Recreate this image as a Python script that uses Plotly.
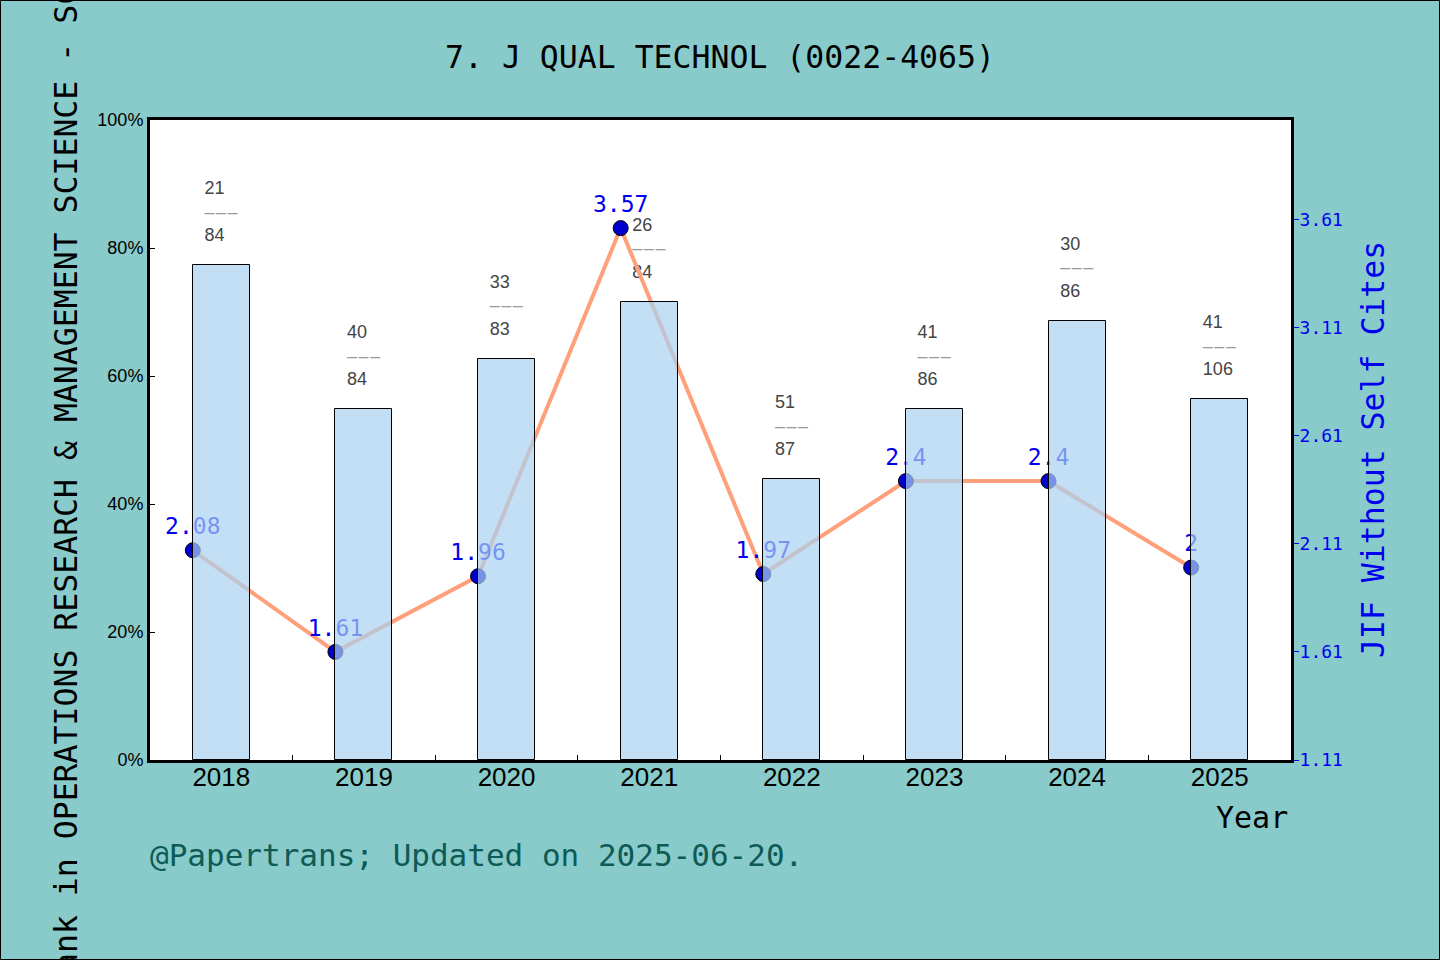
import plotly.graph_objects as go

# ---------------- data ----------------
years = ["2018", "2019", "2020", "2021", "2022", "2023", "2024", "2025"]
rank = [21, 40, 33, 26, 51, 41, 30, 41]
total = [84, 84, 83, 84, 87, 86, 86, 106]
bar_pct = [0.773, 0.548, 0.627, 0.716, 0.439, 0.548, 0.686, 0.564]
jif = [2.08, 1.61, 1.96, 3.57, 1.97, 2.4, 2.4, 2.0]
jif_labels = ["2.08", "1.61", "1.96", "3.57", "1.97", "2.4", "2.4", "2"]
jif_ticks = [1.11, 1.61, 2.11, 2.61, 3.11, 3.61]
pct_ticks = [0, 0.2, 0.4, 0.6, 0.8, 1.0]

# ---------------- layout constants ----------------
W, H = 1440, 960
ML, MR, MT, MB = 150, 149, 120, 200
PW, PH = W - ML - MR, H - MT - MB
MONO = "DejaVu Sans Mono"
SANS = "Liberation Sans, Arial, sans-serif"
BG = "#88CBCA"


def px(x):
    return (x - ML) / PW


def py(y):
    return (H - MB - y) / PH


idx = list(range(len(years)))
bar_w = 0.4
line_x = [i - bar_w / 2 for i in idx]
label_x = [i - 0.118 for i in idx]
label_y = [v + 52 / PH for v in bar_pct]
dash = "\u2013\u200a\u2013\u200a\u2013"
rank_text = [f"{r}<br><span style='color:#9a9a9a'>{dash}</span><br>{t}" for r, t in zip(rank, total)]

fig = go.Figure()

# rank labels (bottom layer)
fig.add_trace(go.Scatter(
    x=label_x, y=label_y, mode="text", text=rank_text,
    textposition="middle right",
    textfont=dict(family=SANS, size=18, color="#444444"),
    yaxis="y", showlegend=False, hoverinfo="skip",
))

# JIF line (middle layer)
fig.add_trace(go.Scatter(
    x=line_x, y=jif, mode="lines+markers+text", text=jif_labels,
    textposition="top center",
    textfont=dict(family=MONO, size=23, color="#0000EE"),
    line=dict(color="#FFA07A", width=4),
    marker=dict(size=15, color="#0000CD", line=dict(color="black", width=1)),
    yaxis="y2", showlegend=False,
))

# bars (top layer, translucent)
fig.add_trace(go.Bar(
    x=idx, y=bar_pct, width=bar_w,
    marker=dict(color="rgba(170,210,242,0.7)", line=dict(color="black", width=1)),
    yaxis="y3", showlegend=False,
))

fig.update_layout(
    width=W, height=H,
    margin=dict(l=ML, r=MR, t=MT, b=MB),
    paper_bgcolor=BG, plot_bgcolor="white",
    title=dict(text="7. J QUAL TECHNOL (0022-4065)", x=0.5, xanchor="center",
               y=1 - 57 / H, yanchor="middle", yref="container",
               font=dict(family=MONO, size=31.5, color="black")),
    xaxis=dict(range=[-0.5, len(years) - 0.5], tickmode="array", tickvals=idx, ticktext=years,
               ticks="", showgrid=False, zeroline=False, ticklabelstandoff=-8,
               showline=True, linewidth=3, linecolor="black", mirror=True,
               tickfont=dict(family=SANS, size=26, color="black"),
               minor=dict(tickmode="array", tickvals=[i - 0.5 for i in idx[1:]],
                          ticks="inside", ticklen=5, tickcolor="black", tickwidth=1, showgrid=False)),
    yaxis=dict(range=[0, 1], tickmode="array", tickvals=pct_ticks, tickformat=".0%",
               ticks="inside", ticklen=5, tickcolor="black", showgrid=False, zeroline=False,
               showline=True, linewidth=3, linecolor="black", mirror=True,
               tickfont=dict(family=SANS, size=18, color="black")),
    yaxis2=dict(range=[1.11, 4.07], overlaying="y", side="right", tickmode="array",
                tickvals=jif_ticks, ticktext=[f"{v:.2f}" for v in jif_ticks],
                ticks="outside", ticklen=5, tickcolor="#0000EE", showgrid=False, zeroline=False,
                showline=True, linewidth=3, linecolor="black", ticklabelstandoff=-3,
                tickfont=dict(family=MONO, size=18, color="#0000EE")),
    yaxis3=dict(range=[0, 1], overlaying="y", visible=False),
    bargap=0,
)

fig.add_annotation(text="Rank in OPERATIONS RESEARCH & MANAGEMENT SCIENCE - SCIE",
                   xref="paper", yref="paper", x=px(66), y=py(470), textangle=-90,
                   xanchor="center", yanchor="middle", showarrow=False,
                   font=dict(family=MONO, size=31.5, color="black"))
fig.add_annotation(text="JIF Without Self Cites",
                   xref="paper", yref="paper", x=px(1373), y=py(450), textangle=-90,
                   xanchor="center", yanchor="middle", showarrow=False,
                   font=dict(family=MONO, size=31.5, color="#0000EE"))
fig.add_annotation(text="Year", xref="paper", yref="paper", x=px(1290), y=py(817),
                   xanchor="right", yanchor="middle", showarrow=False,
                   font=dict(family=MONO, size=30, color="black"))
fig.add_annotation(text="@Papertrans; Updated on 2025-06-20.", xref="paper", yref="paper",
                   x=px(148), y=py(855), xanchor="left", yanchor="middle", showarrow=False,
                   font=dict(family=MONO, size=31, color="#0E5A55"))

fig.add_shape(type="rect", xref="paper", yref="paper",
              x0=px(0.5), x1=px(W - 0.5), y0=py(H - 0.5), y1=py(0.5),
              line=dict(color="black", width=1), fillcolor="rgba(0,0,0,0)", layer="above")

fig.write_html("out.html")
